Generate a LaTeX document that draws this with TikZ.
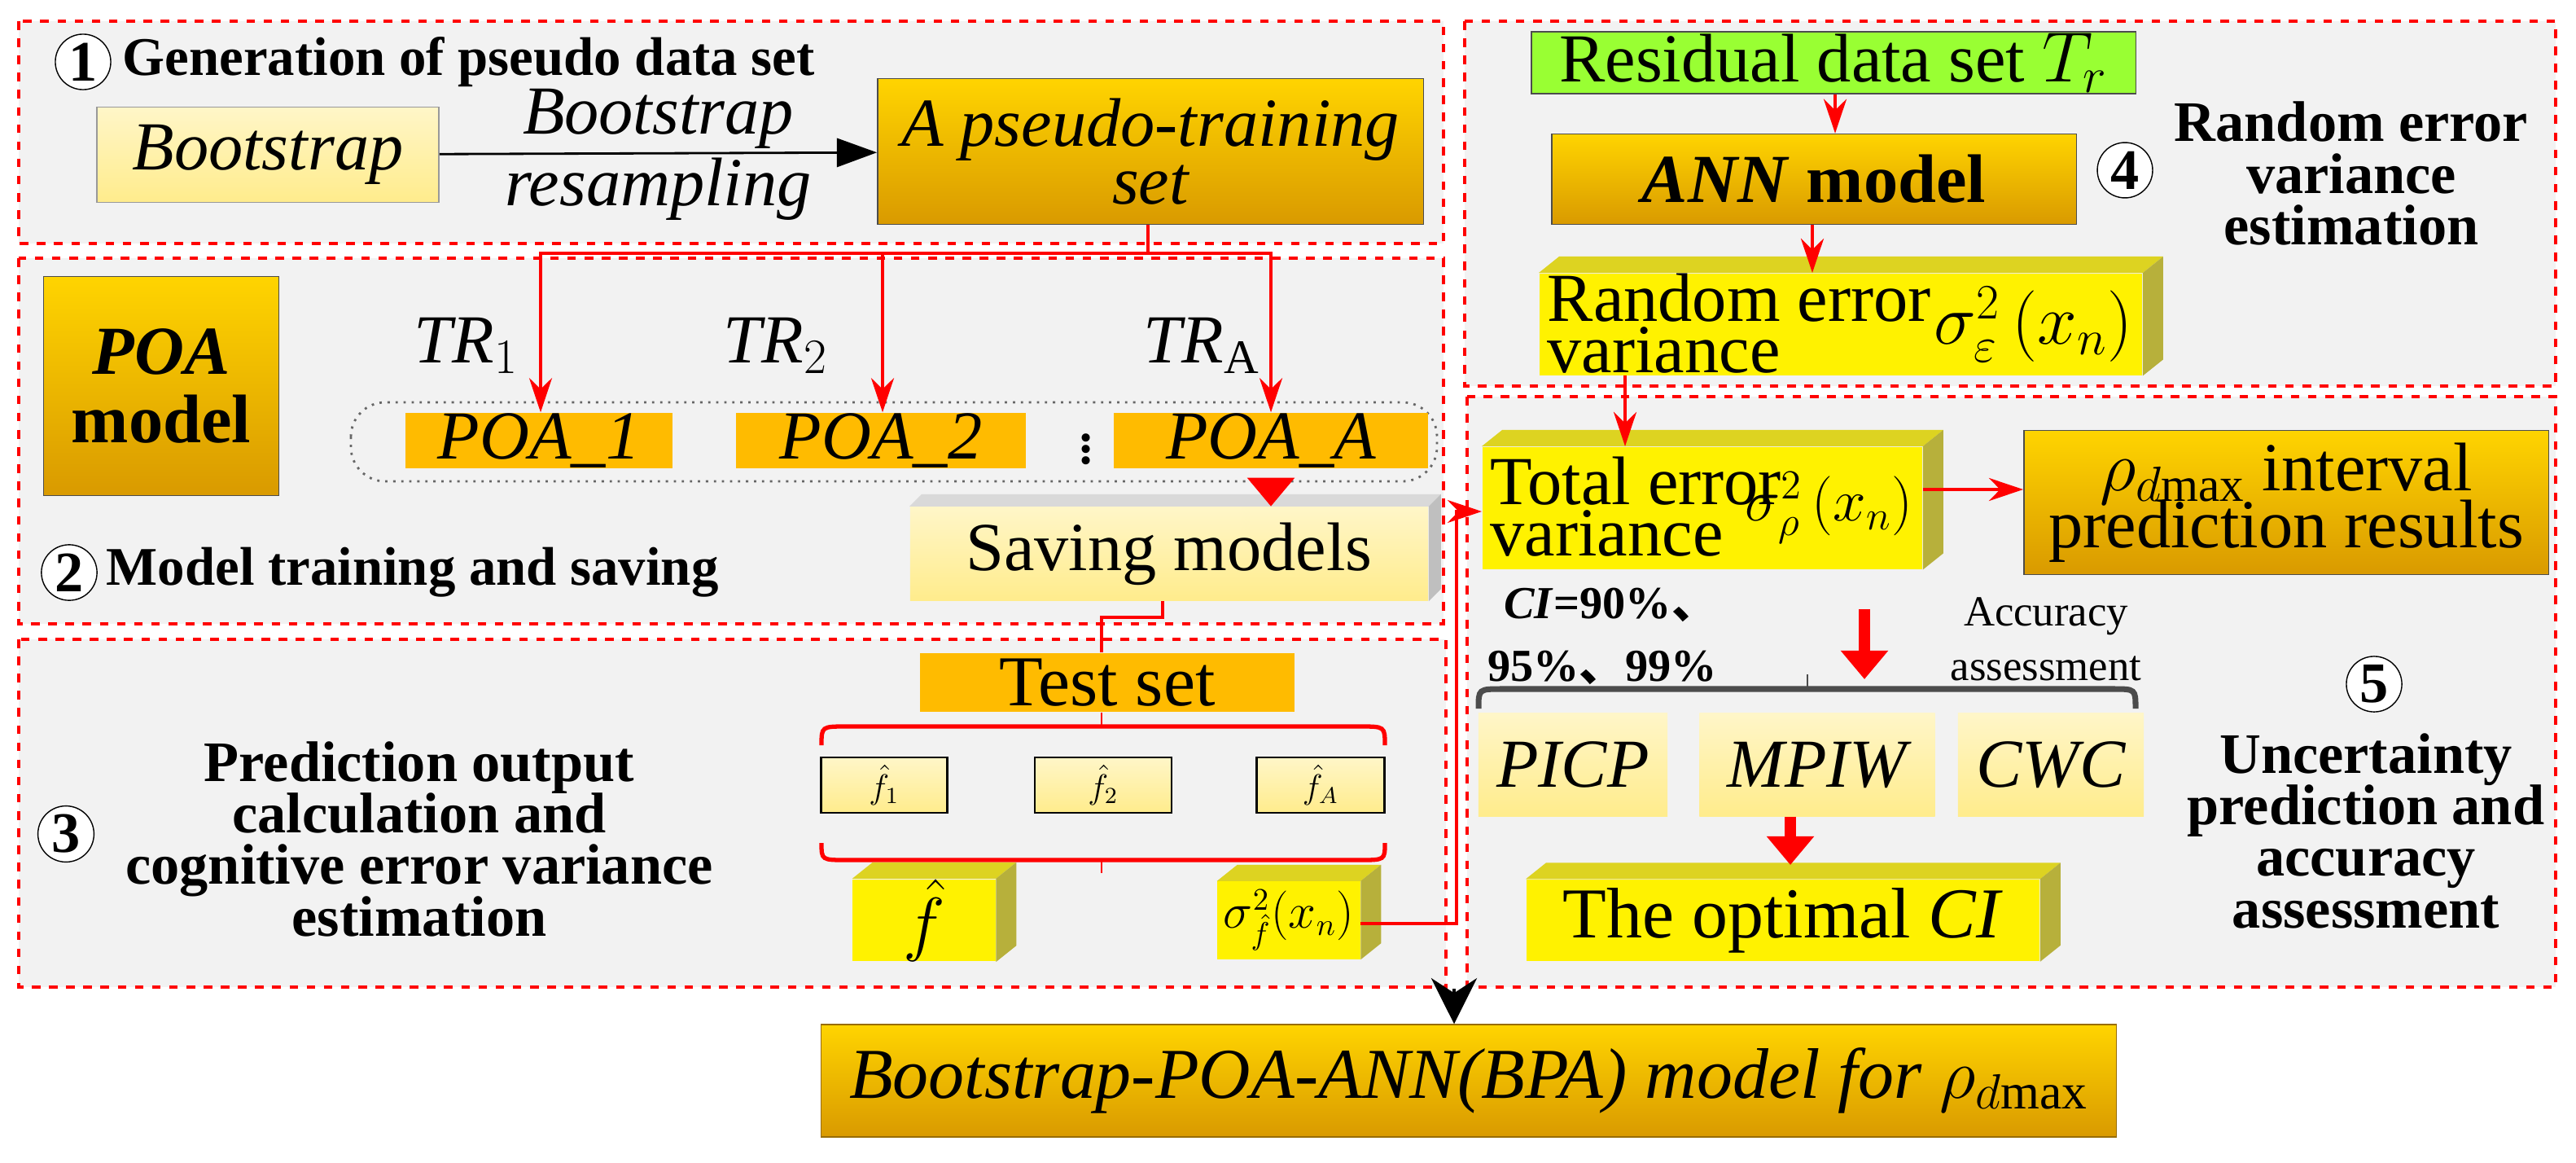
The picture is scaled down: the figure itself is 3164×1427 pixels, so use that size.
\documentclass[tikz,border=0pt]{standalone}
\usepackage{fontspec}
\setmainfont{Liberation Serif}
\newfontfamily\cjk{Noto Sans CJK SC}
\usetikzlibrary{arrows.meta,calc,positioning}
\newcommand{\fsz}[1]{\fontsize{#1}{#1}\selectfont}
\newcommand{\dun}{{\cjk 、}}
\definecolor{panelgray}{HTML}{F2F2F2}
\definecolor{goldtop}{HTML}{FFD400}
\definecolor{goldbot}{HTML}{D99A00}
\definecolor{paleyel}{HTML}{FFF6C8}
\definecolor{lime}{HTML}{99FF33}
\tikzset{
  panel/.style={draw=red,dashed,line width=1.2pt,fill=panelgray},
  gold/.style={draw=black!70,top color=goldtop,bottom color=goldbot,inner sep=0pt,align=center},
  flat/.style={fill=goldtop!70!orange,inner sep=0pt,align=center},
  pale/.style={top color=paleyel,bottom color=paleyel!70!goldtop,inner sep=0pt,align=center},
  yel/.style={fill=yellow,inner sep=0pt,align=center},
  num/.style={draw,circle,fill=white,inner sep=1pt,font=\fsz{20}\bfseries},
  head/.style={font=\fsz{19}\bfseries,align=center,inner sep=0pt},
  redarr/.style={red,line width=1pt,-{Stealth[length=12pt,width=8pt]}},
  fatarr/.style={red,line width=4pt,-{Triangle[length=10pt,width=16pt]}},
}
% top and right face of a 3D box
\newcommand{\cubeface}[2]{%
  \fill[#2] (#1.north west) -- ++(0.25cm,0.2cm) -- ($(#1.north east)+(0.25cm,0.2cm)$) -- (#1.north east) -- cycle;
  \fill[#2!80!black] (#1.north east) -- ++(0.25cm,0.2cm) -- ($(#1.south east)+(0.25cm,0.2cm)$) -- (#1.south east) -- cycle;}
\begin{document}
\begin{tikzpicture}[x=0.01cm,y=-0.01cm]
\useasboundingbox (0,0) rectangle (3164,1427);
% panels
\draw[panel] (23,26) rectangle (1773,299);
\draw[panel] (23,317) rectangle (1773,766);
\draw[panel] (23,785) rectangle (1776,1212);
\draw[panel] (1799,26) rectangle (3139,474);
\draw[panel] (1802,487) rectangle (3139,1212);
% panel 1
\node[num] (n1) at (102,76) {1};
\node[head,anchor=west] (h1) at (150,76) {Generation of pseudo data set};
\node[pale,draw=black!40,minimum width=4.2cm,minimum height=1.17cm,font=\fsz{24}\itshape] (bs) at (329,190) {Bootstrap};
\node[gold,minimum width=6.7cm,minimum height=1.79cm,font=\fsz{24}\itshape] (pts) at (1413,186) {A pseudo-training\\[-4pt]set};
\draw[-{Triangle[length=14pt,width=10pt]},line width=0.8pt] (bs) -- node[above=-2pt,font=\fsz{24}\itshape]{Bootstrap} node[below=-2pt,font=\fsz{24}\itshape]{resampling} (pts);
% panel 2
\node[gold,minimum width=2.89cm,minimum height=2.69cm,font=\fsz{24}\bfseries] (poa) at (198,474) {\textit{POA}\\model};
\draw[dotted,thick,rounded corners=12pt,black!60] (431,494) rectangle (1765,591);
\node[flat,minimum width=3.27cm,minimum height=0.68cm,font=\fsz{24}\itshape] (p1) at (662,541) {POA\_1};
\node[flat,minimum width=3.55cm,minimum height=0.68cm,font=\fsz{24}\itshape] (p2) at (1082,541) {POA\_2};
\node[font=\fsz{24}] (dots) at (1334,541) {$\vdots$};
\node[flat,minimum width=3.86cm,minimum height=0.68cm,font=\fsz{24}\itshape] (pA) at (1561,541) {POA\_A};
\coordinate (sp) at (1410,311);
\draw[red,line width=1pt] (pts.south -| sp) -- (sp);
\draw[redarr] (sp) -| (p1.north -| 664,0);
\draw[redarr] (sp) -| (p2.north -| 1084,0);
\draw[redarr] (sp) -| (pA.north);
\node[font=\fsz{24}] (tr1) at (573,424) {\textit{TR}$_1$};
\node[font=\fsz{24}] (tr2) at (953,424) {\textit{TR}$_2$};
\node[font=\fsz{24}] (trA) at (1476,424) {\textit{TR}$_{\mathrm{A}}$};
\node[pale,minimum width=6.36cm,minimum height=1.15cm,font=\fsz{24}] (save) at (1436,680) {Saving models};
\fill[black!15] (save.north west) -- ++(0.15cm,0.15cm) -- ($(save.north east)+(0.15cm,0.15cm)$) -- (save.north east) -- cycle;
\fill[black!25] (save.north east) -- ++(0.15cm,0.15cm) -- ($(save.south east)+(0.15cm,0.15cm)$) -- (save.south east) -- cycle;
\draw[fatarr] (pA.south |- 0,594) -- (save.north -| pA.south);
\node[num] (n2) at (85,703) {2};
\node[head,anchor=west] (h2) at (130,703) {Model training and saving};
% panel 3
\node[flat,minimum width=4.6cm,minimum height=0.72cm,font=\fsz{25}] (test) at (1360,838) {Test set};
\draw[red,line width=1pt] (save.south -| 1428,0) -- (1428,758) -| (test.north -| 1353,0);
\draw[red,thick] (test.south -| 1353,0) -- (1353,892);
\draw[red,line width=1.5pt] (1009,915) .. controls (1009,892) .. (1040,892) -- (1670,892) .. controls (1701,892) .. (1701,915);
\node[pale,draw,thick,minimum width=1.55cm,minimum height=0.68cm,font=\fsz{12}] (f1) at (1086,964) {$\hat f_1$};
\node[pale,draw,thick,minimum width=1.68cm,minimum height=0.68cm,font=\fsz{12}] (f2) at (1355,964) {$\hat f_2$};
\node[pale,draw,thick,minimum width=1.57cm,minimum height=0.68cm,font=\fsz{12}] (fA) at (1622,964) {$\hat f_A$};
\draw[red,line width=1.5pt] (1009,1035) .. controls (1009,1056) .. (1040,1056) -- (1670,1056) .. controls (1701,1056) .. (1701,1035);
\draw[red,thick] (1353,1056) -- (1353,1072);
\node[yel,minimum width=1.75cm,minimum height=0.95cm,font=\fsz{30}] (fh) at (1135,1130) {$\hat f$};
\cubeface{fh}{yellow!85!black}
\node[yel,minimum width=1.75cm,minimum height=0.95cm,font=\fsz{16}] (sf) at (1583,1130) {$\sigma^2_{\hat f}(x_n)$};
\cubeface{sf}{yellow!85!black}
\node[num] (n3) at (81,1024) {3};
\node[head,font=\fsz{20}\bfseries] (h3) at (515,1030) {Prediction output\\[-2pt]calculation and\\[-2pt]cognitive error variance\\[-2pt]estimation};
% panel 4
\node[draw=black!70,fill=lime,minimum width=7.42cm,minimum height=0.76cm,inner sep=0pt,font=\fsz{24}] (res) at (2252,77) {Residual data set $T_r$};
\node[gold,minimum width=6.44cm,minimum height=1.11cm,font=\fsz{24}\bfseries] (ann) at (2228,220) {\textit{ANN} model};
\node[num] (n4) at (2610,209) {4};
\node[head,font=\fsz{20}\bfseries] (h4) at (2888,213) {Random error\\[-2pt]variance\\[-2pt]estimation};
\node[yel,minimum width=7.4cm,minimum height=1.25cm,font=\fsz{24},anchor=north west] (rev) at (1890,335) {};
\cubeface{rev}{yellow!85!black}
\node[font=\fsz{24},align=left,anchor=west,inner sep=0pt] (revt) at (1900,397) {Random error\\[-6pt]variance};
\node[font=\fsz{24},anchor=east] (reve) at (rev.east) {$\sigma_\varepsilon^2\left(x_n\right)$};
\draw[redarr] (res.south -| 2254,0) -- (ann.north -| 2254,0);
\draw[redarr] (ann.south -| 2226,0) -- (rev.north -| 2226,0);
% panel 5
\node[yel,minimum width=5.4cm,minimum height=1.5cm,anchor=north west] (tot) at (1820,548) {};
\cubeface{tot}{yellow!85!black}
\node[font=\fsz{24},align=left,anchor=west,inner sep=0pt] (tott) at (1830,622) {Total error\\[-6pt]variance};
\node[font=\fsz{22},anchor=east] (tote) at (tot.east) {$\sigma_\rho^2\left(x_n\right)$};
\draw[redarr] (rev.south -| 1996,0) -- (tot.north -| 1996,0);
\node[gold,minimum width=6.44cm,minimum height=1.77cm,font=\fsz{24}] (ipr) at (2808,617) {$\rho_{d\mathrm{max}}$ interval\\[-4pt]prediction results};
\draw[redarr] (tot.east |- 0,601) -- (ipr.west |- 0,601);
\node[font=\fsz{16}\bfseries,anchor=west] (ci1) at (1835,743) {\textit{CI}=90\%\dun};
\node[font=\fsz{16}\bfseries,anchor=west] (ci2) at (1815,820) {95\%\dun 99\%};
\node[font=\fsz{15},align=center] (acc) at (2513,785) {Accuracy\\[4pt]assessment};
\draw[fatarr] (2290,748) -- (2290,834);
\draw[black!70,line width=2pt] (1816,870) .. controls (1816,846) .. (1845,846) -- (2595,846) .. controls (2623,846) .. (2623,870);
\draw[black!70,thin] (2220,846) -- (2220,828);
\node[pale,minimum width=2.32cm,minimum height=1.26cm,font=\fsz{24}\itshape] (picp) at (1932,939) {PICP};
\node[pale,minimum width=2.89cm,minimum height=1.26cm,font=\fsz{24}\itshape] (mpiw) at (2232,939) {MPIW};
\node[pale,minimum width=2.28cm,minimum height=1.26cm,font=\fsz{24}\itshape] (cwc) at (2519,939) {CWC};
\node[yel,minimum width=6.3cm,minimum height=1.0cm,font=\fsz{25}] (opt) at (2190,1130) {The optimal \textit{CI}};
\cubeface{opt}{yellow!85!black}
\draw[fatarr] (mpiw.south -| 2199,0) -- (2199,1062);
\node[num] (n5) at (2916,840) {5};
\node[head,font=\fsz{20}\bfseries] (h5) at (2906,1020) {Uncertainty\\[-2pt]prediction and\\[-2pt]accuracy\\[-2pt]assessment};
\coordinate (jn) at (1789,1134);
\draw[redarr] (sf.east |- jn) -- (jn) |- (tot.west |- 0,628);
% final
\node[gold,minimum width=15.9cm,minimum height=1.38cm,font=\fsz{25}\itshape,draw=goldbot!70!black] (bpa) at (1804,1327) {Bootstrap-POA-ANN(BPA) model for $\rho_{d\mathrm{max}}$};
\coordinate (dn) at (1786,1214);
\draw[-{Stealth[length=16pt,width=16pt]},line width=1pt] (dn) -- (dn |- bpa.north);
\end{tikzpicture}
\end{document}
